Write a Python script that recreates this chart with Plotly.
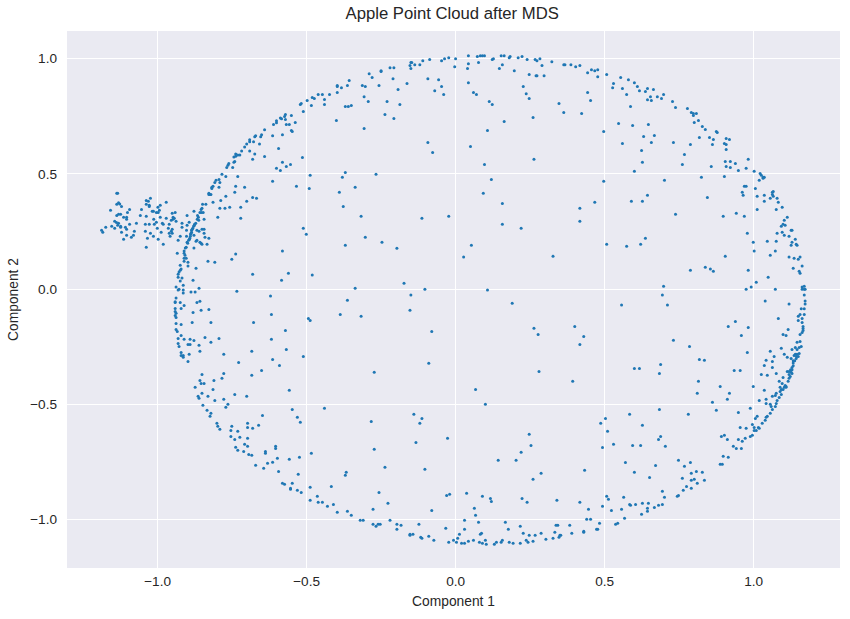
import plotly.graph_objects as go

tail = [(-1.137,.416),(-1.134,.416),(-1.131,.375),(-1.137,.368),(-1.127,.369),(-1.121,.359),(-1.158,.342),(-1.094,.346),(-1.101,.333),(-1.131,.325),(-1.124,.325),(-1.137,.320),(-1.114,.312),(-1.104,.312),(-1.104,.303),(-1.144,.294),(-1.138,.289),(-1.131,.286),(-1.134,.277),(-1.124,.273),(-1.124,.268),(-1.094,.281),(-1.071,.286),(-1.174,.268),(-1.154,.273),(-1.144,.264),(-1.188,.255),(-1.184,.247),(-1.108,.268),(-1.104,.260),(-1.121,.247),(-1.078,.251),(-1.081,.234),(-1.088,.225),(-1.104,.234),(-1.114,.216),
(-1.038,.385),(-1.031,.381),(-1.024,.394),(-1.038,.368),(-1.028,.364),(-1.028,.359),(-.991,.364),(-.971,.377),(-1.054,.346),(-.999,.355),(-1.018,.338),(-1.014,.338),(-1.004,.333),(-.998,.333),(-.994,.342),(-1.058,.320),(-1.038,.316),(-.991,.312),(-.971,.307),(-.951,.329),(-.941,.333),(-.948,.312),(-.944,.307),(-.948,.303),(-.954,.299),(-.938,.294),(-1.013,.303),(-1.004,.290),(-1.011,.281),(-1.041,.281),(-1.028,.281),(-.984,.286),(-.981,.281),(-.961,.281),(-1.001,.264),(-.964,.264),(-1.041,.251),(-.951,.260),(-.954,.251),(-.961,.242),(-.951,.242),(-.958,.229),(-.988,.247),(-1.024,.242),(-1.014,.229),(-1.034,.221),(-.998,.216),(-.981,.195),(-1.038,.182),(-.918,.286),(-.918,.268),(-.931,.212),(-.924,.229)]

stem = [(-.901,.320),(-.878,.338),(-.894,.290),(-.901,.277),(-.903,.255),(-.903,.229),(-.872,.286),(-.876,.281),(-.879,.273),(-.882,.264),(-.886,.255),(-.886,.247),(-.889,.238),(-.892,.221),(-.896,.212),(-.899,.199),(-.904,.182),(-.907,.178),(-.877,.277),(-.884,.260),(-.888,.242),(-.890,.229),(-.893,.216),(-.901,.203),(-.866,.320),(-.863,.312),(-.867,.303),(-.862,.299),(-.858,.332),(-.853,.333),(-.847,.333),(-.854,.346),(-.851,.351),(-.849,.368),(-.838,.368),(-.844,.303),(-.851,.260),(-.844,.260),(-.844,.242),(-.868,.255),(-.861,.251),(-.878,.234),(-.841,.225),(-.828,.221),(-.871,.208),(-.868,.212),(-.858,.203),(-.854,.199),(-.851,.195),(-.834,.195),(-.878,.178),(-.934,.156),(-.911,.165),(-.911,.156),(-.908,.147),(-.904,.134),(-.911,.134),(-.911,.121),(-.898,.117),(-.898,.100),(-.924,.104),(-.921,.087),(-.924,.082),(-.928,.074),(-.931,.065),(-.931,.052),(-.871,.091),(-.918,.048),(-.924,.035),(-.881,.039),(-.831,.121),(-.808,.117),(-.751,.130),(-.738,.152),(-.681,.065),(-.581,.165),(-.561,.069),(-.584,.039),(-.481,.061),(-.734,-.009),(-.621,-.030),(-.914,.017),(-.938,.009),(-.928,0),(-.931,-.004),(-.914,-.004),(-.914,-.017),(-.888,-.013),(-.874,-.013),(-.861,.004),(-.938,-.039)]

upper_left = [(-.828,.416),(-.824,.411),(-.828,.411),(-.821,.411),(-.818,.437),(-.814,.446),(-.818,.442),(-.808,.463),(-.804,.472),(-.794,.476),(-.791,.463),(-.794,.442),(-.814,.377),(-.788,.385),(-.771,.403),(-.798,.312),(-.791,.351),(-.774,.351),(-.758,.355),(-.721,.355),(-.721,.307),(-.701,.381),(-.681,.398),(-.668,.394),(-.741,.420),(-.738,.446),(-.708,.442),(-.784,.498),(-.771,.489),(-.731,.489),(-.768,.528),(-.764,.537),(-.761,.545),(-.748,.528),(-.744,.550),(-.741,.554),(-.744,.573),(-.738,.586),(-.738,.577),(-.731,.582),(-.724,.582),(-.718,.599),(-.708,.617),(-.701,.630),(-.691,.648),(-.691,.639),(-.678,.639),(-.691,.599),(-.674,.586),(-.681,.563),(-.658,.630),(-.641,.576),(-.674,.661),(-.671,.665),(-.654,.661),(-.651,.670),(-.641,.692),(-.611,.714),(-.601,.722),(-.601,.731),(-.588,.742),(-.584,.739),(-.574,.749),(-.571,.758),(-.571,.736),(-.568,.714),(-.558,.714),(-.551,.688),(-.548,.684),(-.614,.665),(-.581,.670),(-.594,.610),(-.581,.550),(-.601,.524),(-.588,.515),(-.568,.532),(-.554,.541),(-.614,.468),(-.514,.571),(-.551,.753),(-.538,.723),(-.521,.801),(-.518,.805),(-.511,.771),(-.498,.818),(-.484,.797),(-.481,.831),(-.474,.827),(-.488,.494),(-.534,.446),(-.491,.437),(-.511,.264),(-.501,.238),(-.461,.844)]

upper_middle = [(-.447,.844),(-.423,.844),(-.440,.823),(-.440,.801),(-.397,.883),(-.397,.879),(-.397,.853),(-.383,.874),(-.363,.883),(-.357,.905),(-.370,.792),(-.360,.792),(-.350,.797),(-.400,.732),(-.290,.935),(-.280,.918),(-.313,.883),(-.303,.879),(-.307,.835),(-.293,.814),(-.307,.697),(-.250,.948),(-.250,.944),(-.257,.883),(-.220,.961),(-.207,.961),(-.210,.913),(-.193,.866),(-.230,.814),(-.187,.801),(-.237,.758),(-.207,.740),(-.163,.892),(-.153,.970),(-.150,.983),(-.147,.983),(-.150,.957),(-.137,.974),(-.120,.974),(-.110,.991),(-.087,.996),(-.093,.913),(-.057,.909),(-.047,.879),(-.070,.861),(-.040,.844),(-.047,.991),(-.037,1.0),(-.023,1.004),(0,1.0),(-.003,.965),(-.093,.636),(-.077,.593),(.043,1.013),(.043,.978),(.040,.957),(.043,.896),(.073,1.009),(.077,.983),(.083,1.013),(.090,1.013),(.097,1.013),(.123,.996),(.127,1.0),(.153,1.013),(.163,1.013),(.157,.974),(.147,.957),(.180,1.004),(.183,1.009),(.210,1.004),(.223,1.009),(.240,.996),(.267,.996),(.273,.991),(.283,1.0),(.290,.970),(.197,.948),(.247,.931),(.270,.926),(.273,.926),(.297,.926),(.323,.987),(.363,.974),(.367,.974),(.387,.974),(.403,.965),(.417,.970),(.060,.853),(.070,.844),(.113,.814),(.123,.801),(.227,.879),(.237,.848),(.247,.827),(.163,.727),(.107,.688),(.260,.745),(.347,.805),(.363,.766),(.050,.619),(.097,.541),(.263,.563),(-.370,.506),(-.380,.485),(-.337,.442),(-.390,.420),(-.377,.359),(-.267,.498),(-.317,.316),(-.113,.307),(-.023,.316),(-.303,.225),(-.370,.190),(-.247,.203),(-.197,.177),(-.173,.026),(-.337,.004),(-.103,0),(-.150,-.026),(-.363,-.048),(.120,.476),(.093,.416),(.157,.372),(.157,.281),(.220,.264),(.053,.190),(.027,.139),(.327,.143),(.107,-.004),(.190,-.061),(.417,.351),(.417,.294)]

upper_right = [(.443,.939),(.456,.952),(.467,.948),(.477,.952),(.477,.922),(.443,.853),(.453,.818),(.423,.762),(.507,.931),(.530,.892),(.527,.874),(.554,.918),(.580,.909),(.560,.870),(.574,.844),(.600,.896),(.610,.879),(.617,.861),(.637,.857),(.644,.870),(.664,.866),(.654,.835),(.644,.822),(.657,.818),(.677,.835),(.691,.827),(.698,.844),(.728,.814),(.738,.788),(.587,.792),(.778,.784),(.791,.766),(.798,.762),(.798,.753),(.808,.762),(.801,.723),(.815,.732),(.828,.706),(.838,.693),(.875,.684),(.878,.680),(.818,.658),(.852,.658),(.865,.649),(.908,.654),(.919,.649),(.902,.632),(.908,.628),(.862,.628),(.788,.628),(.908,.606),(.768,.584),(.761,.541),(.905,.554),(.922,.554),(.939,.545),(.982,.563),(.908,.532),(.922,.528),(.858,.532),(.949,.515),(.975,.524),(1.002,.511),(1.022,.502),(1.026,.494),(1.032,.485),(1.036,.485),(1.032,.481),(1.019,.472),(.902,.489),(.825,.485),(.701,.472),(.969,.446),(.975,.446),(1.006,.437),(.962,.420),(.965,.407),(1.036,.407),(1.012,.403),(1.036,.381),(1.063,.420),(1.066,.424),(1.063,.411),(1.066,.403),(1.056,.394),(1.079,.394),(1.083,.377),(.845,.398),(.644,.407),(.590,.381),(.627,.381),(.467,.377),(1.076,.346),(1.096,.355),(1.012,.346),(.898,.316),(.942,.329),(.969,.316),(.738,.325),(1.113,.312),(1.103,.299),(1.099,.281),(1.106,.277),(1.093,.273),(1.126,.255),(1.129,.255),(1.079,.242),(1.096,.247),(1.103,.234),(1.119,.229),(.979,.242),(1.140,.216),(1.129,.203),(1.126,.190),(1.143,.195),(1.146,.190),(.999,.203),(1.046,.208),(1.076,.208),(1.002,.165),(1.073,.165),(1.056,.147),(1.119,.139),(1.136,.134),(1.150,.130),(1.156,.139),(1.163,.100),(1.133,.091),(1.153,.078),(1.156,.069),(.507,.195),(.574,.186),(.621,.195),(.637,.221),(.905,.143),(.788,.082),(.838,.095),(.855,.087),(.865,.078),(.982,.082),(1.049,.052),(1.009,.030),(.992,.009),(.975,0),(1.073,0),(1.163,.009),(1.170,.013),(1.163,0),(1.170,0),(1.173,0),(1.170,-.026),(1.173,-.052),(1.173,-.065),(1.160,-.085),(1.170,-.085),(1.039,-.052),(1.119,-.065),(.698,.013),(.694,-.026),(.711,-.069),(.557,-.069),(.497,.468),(.497,.684),(.547,.719),(.594,.710),(.647,.714),(.560,.632),(.631,.662),(.667,.667),(.657,.636),(.731,.636),(.624,.602),(.627,.550),(.600,.511)]

lower_left = [(-.941,-.055),(-.924,-.058),(-.911,-.071),(-.941,-.058),(-.868,-.058),(-.858,-.053),(-.941,-.084),(-.921,-.084),(-.941,-.097),(-.938,-.105),(-.941,-.114),(-.938,-.123),(-.828,-.088),(-.854,-.092),(-.881,-.101),(-.938,-.149),(-.921,-.153),(-.884,-.145),(-.821,-.145),(-.678,-.145),(-.618,-.110),(-.494,-.127),(-.488,-.136),(-.938,-.175),(-.934,-.184),(-.921,-.201),(-.931,-.214),(-.911,-.218),(-.891,-.218),(-.878,-.223),(-.571,-.179),(-.841,-.210),(-.794,-.214),(-.821,-.231),(-.618,-.218),(-.931,-.236),(-.928,-.249),(-.898,-.240),(-.891,-.240),(-.861,-.244),(-.921,-.275),(-.921,-.288),(-.914,-.288),(-.914,-.296),(-.894,-.283),(-.858,-.270),(-.898,-.314),(-.778,-.283),(-.728,-.318),(-.684,-.270),(-.614,-.305),(-.568,-.262),(-.591,-.331),(-.511,-.292),(-.651,-.353),(-.684,-.374),(-.851,-.370),(-.778,-.366),(-.784,-.387),(-.811,-.396),(-.858,-.396),(-.854,-.409),(-.844,-.409),(-.874,-.426),(-.814,-.435),(-.558,-.439),(-.851,-.452),(-.864,-.465),(-.861,-.474),(-.831,-.465),(-.741,-.457),(-.701,-.465),(-.808,-.483),(-.778,-.478),(-.848,-.504),(-.764,-.500),(-.771,-.513),(-.834,-.526),(-.821,-.539),(-.824,-.552),(-.548,-.522),(-.531,-.556),(-.521,-.578),(-.648,-.548),(-.801,-.582),(-.798,-.595),(-.791,-.608),(-.751,-.595),(-.754,-.613),(-.731,-.617),(-.698,-.582),(-.698,-.600),(-.681,-.604),(-.661,-.591),(-.754,-.639),(-.741,-.652),(-.724,-.643),(-.698,-.647),(-.738,-.686),(-.708,-.673),(-.698,-.682),(-.731,-.699),(-.711,-.704),(-.694,-.717),(-.684,-.721),(-.638,-.704),(-.638,-.712),(-.604,-.682),(-.604,-.691),(-.598,-.734),(-.614,-.751),(-.631,-.756),(-.671,-.764),(-.644,-.777),(-.558,-.738),(-.524,-.730),(-.484,-.712),(-.594,-.791),(-.528,-.803),(-.581,-.842),(-.574,-.847),(-.548,-.842),(-.554,-.864),(-.554,-.868),(-.531,-.873),(-.518,-.882),(-.488,-.860),(-.488,-.916),(-.464,-.899),(-.461,-.925)]

lower_middle = [(-.387,-.110),(-.317,-.118),(-.153,-.092),(-.080,-.184),(-.090,-.322),(-.273,-.361),(.263,-.170),(.277,-.197),(.400,-.162),(.417,-.240),(.280,-.357),(.393,-.400),(.067,-.435),(.100,-.500),(-.440,-.517),(-.283,-.574),(-.140,-.543),(-.113,-.561),(-.120,-.582),(-.027,-.647),(-.133,-.665),(-.273,-.695),(-.237,-.773),(-.103,-.782),(-.367,-.795),(-.370,-.808),(-.417,-.856),(-.257,-.882),(-.030,-.895),(-.020,-.890),(-.227,-.929),(-.080,-.960),(-.277,-.955),(-.447,-.925),(-.430,-.942),(-.410,-.934),(-.397,-.968),(-.363,-.964),(-.350,-.981),(-.320,-1.003),(-.310,-1.003),(-.277,-1.020),(-.267,-1.029),(-.260,-1.020),(-.253,-1.020),(-.220,-1.003),(-.197,-1.020),(-.183,-1.025),(-.197,-1.042),(-.153,-1.064),(-.153,-1.068),(-.143,-1.064),(-.123,-1.020),(-.117,-1.077),(-.113,-1.081),(-.090,-1.072),(-.073,-1.090),(-.033,-1.038),(-.023,-1.098),(-.007,-1.090),(.003,-1.098),(.007,-1.081),(.013,-1.064),(.020,-1.103),(.030,-1.103),(.030,-1.042),(.030,-1.003),(.043,-1.094),(.060,-1.090),(.037,-.886),(.090,-.899),(.063,-.951),(.067,-.981),(.077,-1.012),(.117,-.908),(.120,-.921),(.083,-1.064),(.087,-1.059),(.080,-1.098),(.090,-1.103),(.100,-1.090),(.103,-1.107),(.130,-1.107),(.137,-1.098),(.153,-1.098),(.157,-1.090),(.167,-1.012),(.177,-1.042),(.180,-1.098),(.193,-1.103),(.217,-1.103),(.217,-1.029),(.227,-1.059),(.247,-1.068),(.237,-1.090),(.243,-1.098),(.260,-1.094),(.267,-1.068),(.287,-1.059),(.303,-1.085),(.327,-1.081),(.333,-1.055),(.337,-1.025),(.343,-1.025),(.347,-1.077),(.350,-1.068),(.353,-1.068),(.383,-1.025),(.390,-1.059),(.143,-.743),(.203,-.743),(.220,-.708),(.247,-.630),(.253,-.678),(.287,-.799),(.260,-.825),(.223,-.908),(.240,-.925),(.340,-.916),(.417,-.925)]

lower_right = [(.430,-.205),(.915,-.162),(.939,-.140),(.982,-.166),(.959,-.201),(1.083,-.127),(1.116,-.175),(.731,-.222),(.785,-.249),(.979,-.275),(.818,-.305),(.835,-.309),(.600,-.344),(.617,-.344),(.688,-.327),(.684,-.366),(.815,-.400),(.935,-.353),(.955,-.353),(.888,-.422),(.999,-.422),(.811,-.452),(.919,-.452),(.912,-.478),(.862,-.491),(1.156,-.110),(1.170,-.110),(1.150,-.118),(1.163,-.127),(1.150,-.136),(1.163,-.145),(1.166,-.162),(1.166,-.171),(1.166,-.179),(1.163,-.188),(1.156,-.197),(1.099,-.197),(1.109,-.201),(1.156,-.227),(1.146,-.231),(1.160,-.249),(1.153,-.253),(1.140,-.253),(1.146,-.262),(1.129,-.262),(1.153,-.279),(1.146,-.283),(1.140,-.283),(1.136,-.288),(1.144,-.292),(1.150,-.292),(1.143,-.301),(1.093,-.257),(1.103,-.283),(1.113,-.296),(1.126,-.301),(1.056,-.270),(1.069,-.292),(1.042,-.309),(1.063,-.314),(1.036,-.331),(1.063,-.340),(1.026,-.370),(1.046,-.374),(1.133,-.311),(1.138,-.311),(1.133,-.321),(1.133,-.332),(1.129,-.340),(1.124,-.350),(1.129,-.350),(1.113,-.357),(1.119,-.357),(1.126,-.361),(1.119,-.370),(1.129,-.366),(1.123,-.379),(1.119,-.387),(1.116,-.400),(1.076,-.366),(1.099,-.383),(1.086,-.400),(1.096,-.409),(1.106,-.418),(1.109,-.422),(1.103,-.426),(1.089,-.426),(1.093,-.435),(1.099,-.435),(1.089,-.444),(1.109,-.426),(1.036,-.439),(1.076,-.452),(1.073,-.461),(1.063,-.465),(1.093,-.457),(1.086,-.470),(1.079,-.483),(1.042,-.478),(1.019,-.483),(1.042,-.496),(1.076,-.496),(1.073,-.509),(1.056,-.500),(1.059,-.509),(1.063,-.522),(.989,-.517),(1.056,-.539),(1.046,-.552),(1.042,-.556),(1.039,-.569),(1.029,-.582),(1.012,-.552),(1.006,-.561),(.996,-.587),(1.016,-.600),(1.019,-.604),(1.002,-.600),(1.002,-.613),(1.009,-.613),(.949,-.535),(.955,-.600),(.975,-.604),(.996,-.634),(.989,-.639),(.972,-.647),(.962,-.660),(.949,-.652),(.892,-.639),(.902,-.634),(.912,-.652),(.932,-.682),(.942,-.691),(.959,-.691),(.898,-.725),(.915,-.730),(.888,-.760),(.895,-.760),(.875,-.526),(.781,-.543),(.684,-.522),(.584,-.543),(.627,-.591),(.503,-.561),(.487,-.582),(.510,-.617),(.681,-.652),(.688,-.639),(.530,-.673),(.493,-.687),(.594,-.678),(.621,-.678),(.704,-.682),(.570,-.752),(.600,-.795),(.671,-.765),(.651,-.817),(.433,-.786),(.748,-.743),(.768,-.769),(.788,-.752),(.791,-.799),(.808,-.791),(.828,-.795),(.761,-.821),(.791,-.829),(.801,-.825),(.835,-.829),(.811,-.842),(.775,-.856),(.791,-.864),(.764,-.873),(.748,-.895),(.744,-.899),(.694,-.877),(.701,-.903),(.564,-.903),(.507,-.899),(.513,-.912),(.694,-.934),(.681,-.938),(.667,-.947),(.647,-.929),(.627,-.929),(.604,-.934),(.584,-.934),(.587,-.938),(.644,-.951),(.644,-.964),(.624,-.977),(.557,-.955),(.523,-.960),(.493,-.942),(.446,-.955),(.567,-.994),(.544,-1.016),(.537,-1.020),(.483,-1.016),(.440,-.999),(.453,-.999),(.473,-1.042),(.477,-1.042),(.430,-1.051),(.430,-1.055)]

groups = [tail, stem, upper_left, upper_middle, upper_right, lower_left, lower_middle, lower_right]
component_1 = [p[0] for g in groups for p in g]
component_2 = [p[1] for g in groups for p in g]

TEXT = "#262626"
FONT = "Liberation Sans, Arial, sans-serif"

fig = go.Figure(go.Scatter(
    x=component_1, y=component_2, mode="markers",
    marker=dict(color="#1f77b4", size=3.0, line=dict(width=0)),
    hoverinfo="skip",
))

axis = dict(
    showgrid=True, gridcolor="white", gridwidth=1.3, zeroline=False,
    showline=False, ticks="", tickformat=".1f", dtick=0.5,
    tickfont=dict(size=13.6, color=TEXT, family=FONT),
    automargin=False,
)
fig.update_layout(
    width=850, height=619,
    margin=dict(l=66.5, r=10, t=30.5, b=50.5, pad=0),
    paper_bgcolor="white", plot_bgcolor="#EAEAF2",
    showlegend=False,
    font=dict(family=FONT, color=TEXT),
    title=dict(text="Apple Point Cloud after MDS", x=0.532, xanchor="center",
               y=0.9785, yanchor="middle", font=dict(size=16.7, color=TEXT, family=FONT)),
    xaxis=dict(axis, range=[-1.304, 1.29], tick0=0, ticklabelstandoff=3,
               title=dict(text="Component 1", font=dict(size=13.8, color=TEXT, family=FONT), standoff=8)),
    yaxis=dict(axis, range=[-1.21, 1.12], tick0=0, ticklabelstandoff=9,
               title=dict(text="Component 2", font=dict(size=13.8, color=TEXT, family=FONT), standoff=8)),
)
fig.write_html("out.html", config={"displayModeBar": False},
               post_script="document.body.style.margin='0';")
